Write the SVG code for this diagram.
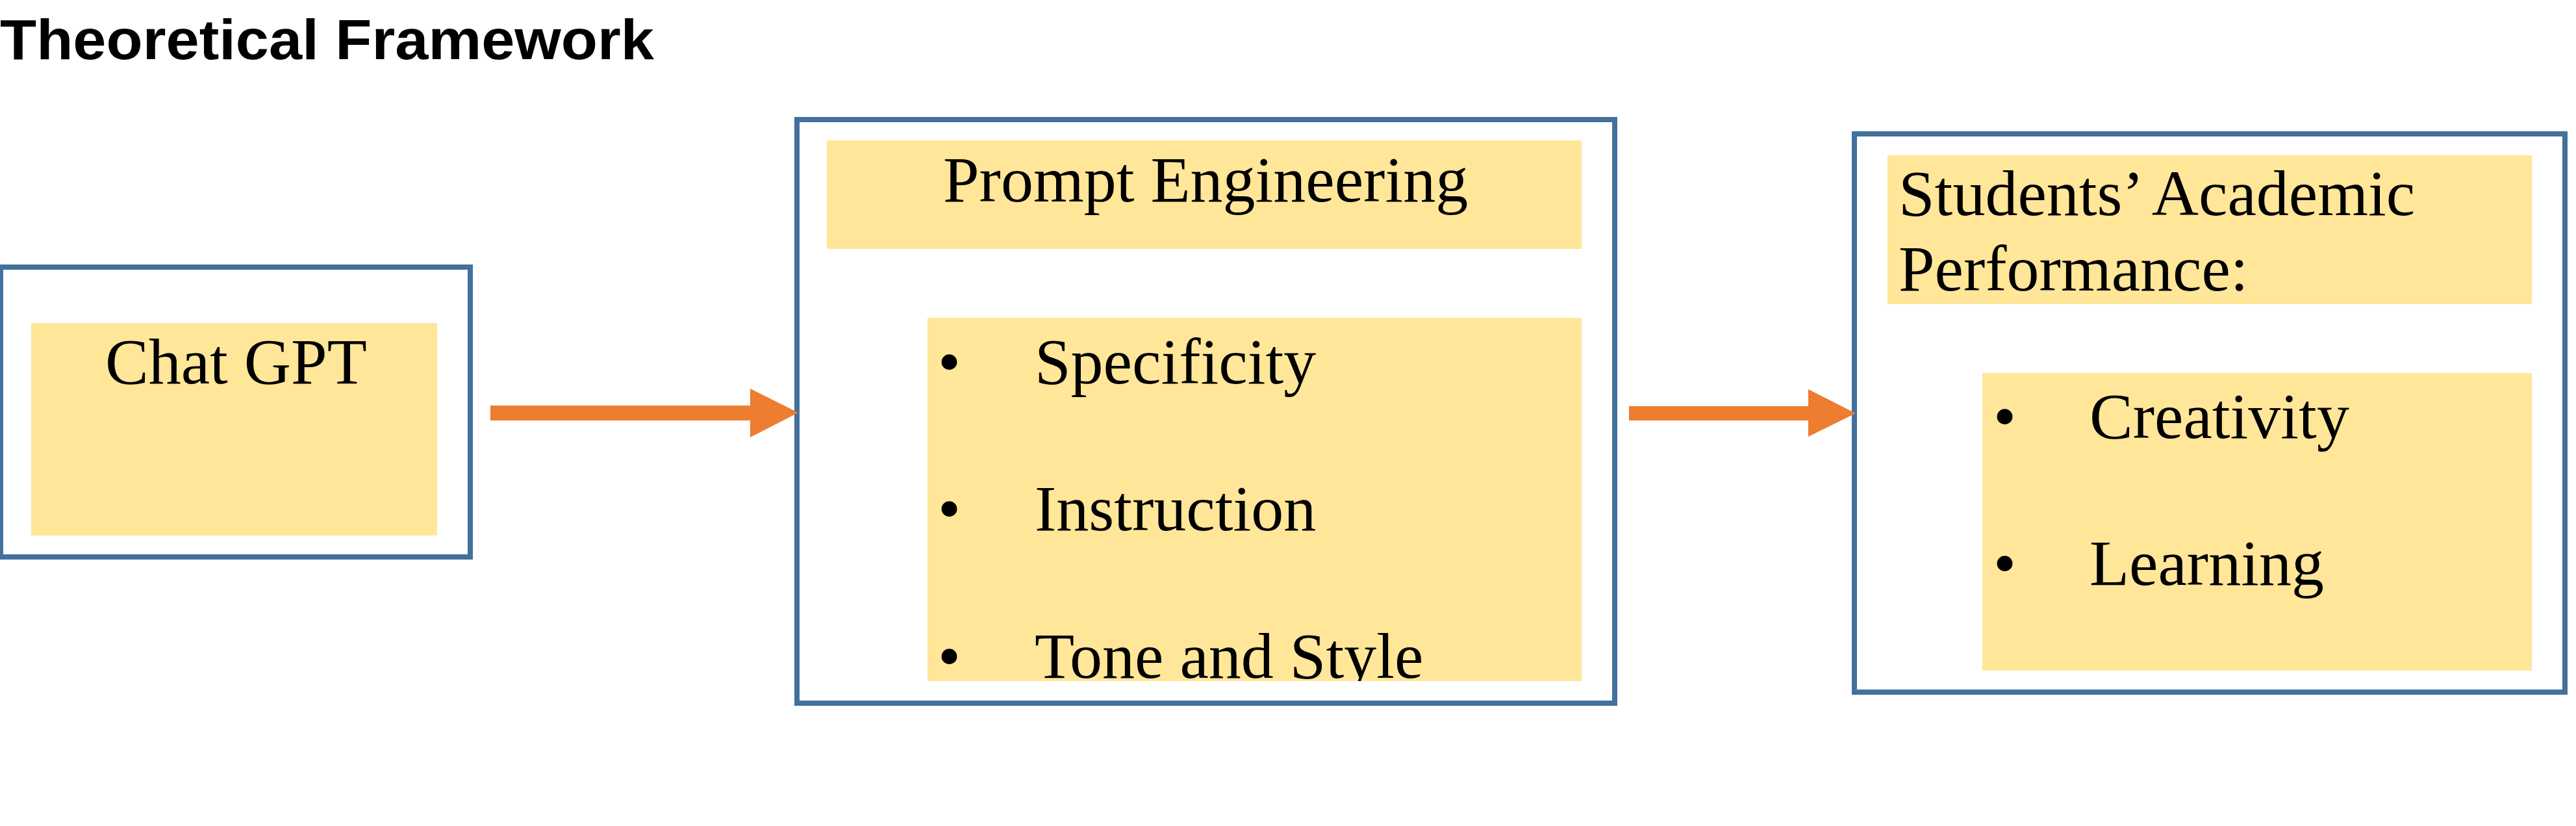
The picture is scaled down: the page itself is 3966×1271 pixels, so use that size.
<svg xmlns="http://www.w3.org/2000/svg" width="3966" height="1271" viewBox="0 0 3966 1271">
<style>
.frame{fill:#fff;stroke:#41719C;stroke-width:8}
.fill{fill:#FFE699}
.t{font-family:"Liberation Serif","Times New Roman",serif;font-size:100px;fill:#000}
.title{font-family:"Liberation Sans",Arial,sans-serif;font-weight:bold;font-size:88px;fill:#000}
.arrow{fill:#ED7D31}
</style>
<defs><clipPath id="c2"><rect x="1428" y="489" width="1007" height="559"/></clipPath></defs>
<rect width="3966" height="1271" fill="#fff"/>
<text class="title" x="0" y="91" textLength="1007" lengthAdjust="spacingAndGlyphs">Theoretical Framework</text>
<g id="chatgpt">
<rect class="frame" x="1" y="411" width="723" height="446"/>
<rect class="fill" x="48" y="497" width="625" height="327"/>
<text class="t" x="162" y="590">Chat GPT</text>
</g>
<g id="prompt">
<rect class="frame" x="1227" y="184" width="1259" height="898"/>
<rect class="fill" x="1273" y="216" width="1162" height="167"/>
<text class="t" x="1452" y="310">Prompt Engineering</text>
<rect class="fill" x="1428" y="489" width="1007" height="559"/>
<g clip-path="url(#c2)">
<text class="t" x="1444" y="590">•</text><text class="t" x="1593" y="590">Specificity</text>
<text class="t" x="1444" y="816">•</text><text class="t" x="1593" y="816">Instruction</text>
<text class="t" x="1444" y="1043">•</text><text class="t" x="1593" y="1043">Tone and Style</text>
</g>
</g>
<g id="performance">
<rect class="frame" x="2855" y="206" width="1094" height="859"/>
<rect class="fill" x="2906" y="239" width="992" height="229"/>
<text class="t" x="2923" y="331">Students’ Academic</text>
<text class="t" x="2923" y="447">Performance:</text>
<rect class="fill" x="3052" y="574" width="846" height="458"/>
<text class="t" x="3069" y="674">•</text><text class="t" x="3217" y="674">Creativity</text>
<text class="t" x="3069" y="900">•</text><text class="t" x="3217" y="900">Learning</text>
</g>
<g id="connectors">
<polygon class="arrow" points="755,624 1155,624 1155,598 1229,635 1155,673 1155,647 755,647"/>
<polygon class="arrow" points="2508,625 2784,625 2784,599 2857,636 2784,672 2784,647 2508,647"/>
</g>
</svg>
